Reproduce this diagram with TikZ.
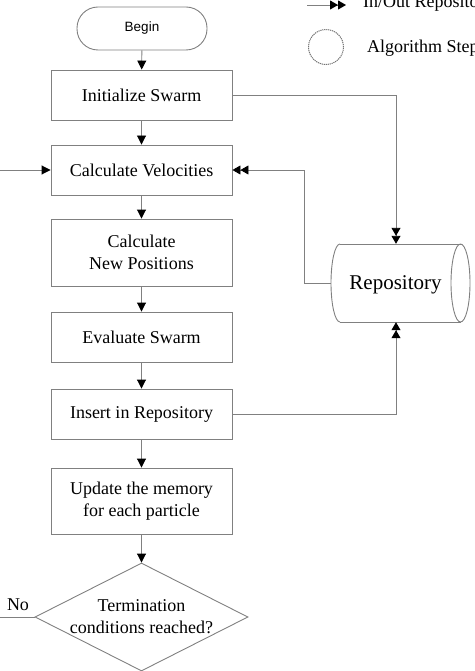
\documentclass[tikz,border=0pt]{standalone}
\usepackage{fontspec}
\setmainfont{Liberation Serif}
\newfontfamily\sansf{Liberation Sans}
\usetikzlibrary{arrows.meta,shapes.geometric}
\definecolor{lgray}{HTML}{808080}
\tikzset{
  box/.style={draw=lgray, line width=0.9pt, minimum width=181pt, inner sep=0pt,
    align=center, font=\fontsize{18}{22}\selectfont},
  conn/.style={draw=lgray, line width=0.9pt},
  arr/.style={conn, -{Triangle[length=9pt,width=9pt,color=black]}},
  darr/.style={conn, -{Triangle[length=8pt,width=9pt,color=black]Triangle[length=8pt,width=9pt,color=black]}},
  outline/.style={draw=lgray, line width=0.9pt},
}
\begin{document}
\begin{tikzpicture}[x=1pt,y=-1pt]
\useasboundingbox (0,0) rectangle (474,671);
\clip (0,0) rectangle (474,671);
% flow nodes
\node[draw=lgray, line width=0.9pt, rounded corners=21pt, minimum width=130pt, minimum height=43pt,
  inner sep=0pt, font=\sansf\fontsize{13.5}{16}\selectfont] (begin) at (142,28.5) {Begin};
\node[box, minimum height=50pt] (init) at (141.5,95) {Initialize Swarm};
\node[box, minimum height=50pt] (vel) at (141.5,170) {Calculate Velocities};
\node[box, minimum height=67pt] (pos) at (141.5,252.5) {Calculate\\New Positions};
\node[box, minimum height=50pt] (eval) at (141.5,337) {Evaluate Swarm};
\node[box, minimum height=50pt] (ins) at (141.5,414) {Insert in Repository};
\node[box, minimum height=66pt] (upd) at (141.5,501) {Update the memory\\for each particle};
\node[diamond, draw=lgray, line width=0.9pt, minimum width=213pt, minimum height=108pt,
  inner sep=0pt] (term) at (141.5,617) {};
\node[align=center, font=\fontsize{18}{22}\selectfont, inner sep=0pt] (termt) at (term.center) {Termination\\conditions reached?};
% repository (horizontal cylinder)
\node[minimum width=139pt, minimum height=78pt, inner sep=0pt] (repo) at (400.5,283) {};
\draw[outline] (340,244) -- (460.5,244);
\draw[outline] (340,322) -- (460.5,322);
\draw[outline] (340,244) arc[start angle=-90, end angle=-270, x radius=9, y radius=39];
\draw[outline] (460.5,283) ellipse[x radius=9.5, y radius=39];
\node[font=\fontsize{21}{24}\selectfont, inner sep=0pt] (repot) at (395.5,285) {Repository};
\coordinate (rx) at (396,0);
% connectors
\draw[arr] (begin) -- (init);
\draw[arr] (init) -- (vel);
\draw[arr] (vel) -- (pos);
\draw[arr] (pos) -- (eval);
\draw[arr] (eval) -- (ins);
\draw[arr] (ins) -- (upd);
\draw[arr] (upd) -- (term);
\draw[darr] (init.east) -| (rx |- repo.north);
\draw[darr] (repo.west) -- ++(-26,0) |- (vel.east);
\draw[darr] (ins.east) -| (rx |- repo.south);
\coordinate (loopin) at (0,170);
\draw[arr] (loopin) -- (vel.west);
\coordinate (noout) at (0,617);
\draw[conn] (term.west) -- (noout);
\node[font=\fontsize{18}{22}\selectfont, anchor=base, inner sep=0pt] (no) at (18,610) {No};
% legend
\coordinate (la) at (307,5);
\coordinate (lb) at (346,5);
\draw[darr] (la) -- (lb);
\node[font=\fontsize{18}{22}\selectfont, anchor=base west, inner sep=0pt] (lt1) at (363,8) {In/Out Repository};
\node[circle, draw=gray!90!black, dash pattern=on 1.2pt off 0.8pt, line width=1pt, minimum size=35pt, inner sep=0pt] (lc) at (326,47) {};
\node[font=\fontsize{18}{22}\selectfont, anchor=base west, inner sep=0pt] (lt2) at (367,53) {Algorithm Step};
\end{tikzpicture}
\end{document}
